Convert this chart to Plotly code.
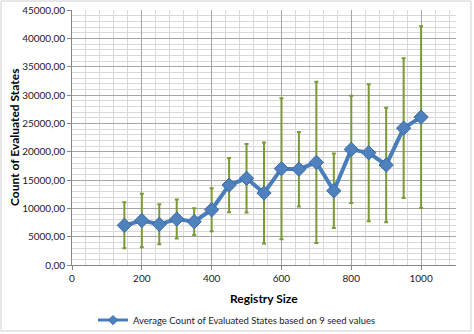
import plotly.graph_objects as go

registry_size = [150, 200, 250, 300, 350, 400, 450, 500, 550, 600, 650, 700, 750, 800, 850, 900, 950, 1000]
avg_states = [7000, 7850, 7180, 8100, 7650, 9750, 14100, 15300, 12700, 17000, 16900, 18100, 13100, 20400, 19800, 17650, 24150, 26100]
err_states = [4060, 4735, 3530, 3440, 2350, 3795, 4770, 6035, 8915, 12445, 6565, 14235, 6560, 9475, 12090, 10120, 12325, 16030]
series_name = "Average Count of Evaluated States based on 9 seed values"
x_title = "Registry Size"
y_title = "Count of Evaluated States"

FONT = "Lato, 'DejaVu Sans', sans-serif"

fig = go.Figure()
fig.add_trace(go.Scatter(
    x=registry_size, y=avg_states, name=series_name, mode="lines+markers",
    showlegend=False,
    line=dict(color="#4A7EBB", width=4),
    marker=dict(symbol="diamond", size=11, color="#4F81BD", line=dict(color="#3A6BA8", width=1)),
    error_y=dict(type="data", array=err_states, visible=True, color="#7A9A35", thickness=2, width=2),
))
# legend entry with a smaller symbol
fig.add_trace(go.Scatter(
    x=[None], y=[None], name=series_name, mode="lines+markers",
    line=dict(color="#4A7EBB", width=3),
    marker=dict(symbol="diamond", size=7, color="#4F81BD", line=dict(color="#3A6BA8", width=1)),
))

fig.update_layout(
    width=474, height=334,
    margin=dict(l=72, r=18, t=10, b=69, autoexpand=False),
    paper_bgcolor="white", plot_bgcolor="white",
    separators=",.",
    font=dict(family=FONT, size=10, color="#222222"),
    showlegend=True,
    legend=dict(orientation="h", xref="container", yref="container",
                x=0.5, xanchor="center", y=0.085, yanchor="top",
                font=dict(size=9.5, family=FONT), bgcolor="rgba(0,0,0,0)"),
    xaxis=dict(
        range=[0, 1100], tickmode="linear", tick0=0, dtick=200,
        showgrid=True, gridcolor="#A6A6A6", gridwidth=1,
        minor=dict(dtick=40, showgrid=True, gridcolor="#D9D9D9", gridwidth=1),
        showline=True, linecolor="#868686", linewidth=1,
        ticks="outside", ticklen=4, tickcolor="#868686",
        zeroline=False, automargin=False,
        tickfont=dict(size=10),
    ),
    yaxis=dict(
        range=[0, 45000], tickmode="linear", tick0=0, dtick=5000,
        tickformat=".2f",
        showgrid=True, gridcolor="#A6A6A6", gridwidth=1,
        minor=dict(dtick=1000, showgrid=True, gridcolor="#D9D9D9", gridwidth=1),
        showline=True, linecolor="#868686", linewidth=1,
        ticks="outside", ticklen=4, tickcolor="#868686",
        zeroline=False, automargin=False,
        tickfont=dict(size=10),
    ),
    annotations=[
        dict(text="<b>" + x_title + "</b>", xref="paper", yref="paper",
             x=0.5, y=(265 - 298) / 255, xanchor="center", yanchor="middle",
             showarrow=False, font=dict(size=12, family=FONT, color="#000")),
        dict(text="<b>" + y_title + "</b>", xref="paper", yref="paper",
             x=(14 - 72) / 384, y=(265 - 138) / 255, xanchor="center", yanchor="middle",
             textangle=-90, showarrow=False, font=dict(size=12, family=FONT, color="#000")),
    ],
)

# outer chart frame
fig.add_shape(type="rect", xref="paper", yref="paper",
              x0=(1 - 72) / 384, x1=(471 - 72) / 384,
              y0=(265 - 331) / 255, y1=(265 - 1) / 255,
              line=dict(color="#D0D0D0", width=1), layer="below")

fig.write_html("out.html")
